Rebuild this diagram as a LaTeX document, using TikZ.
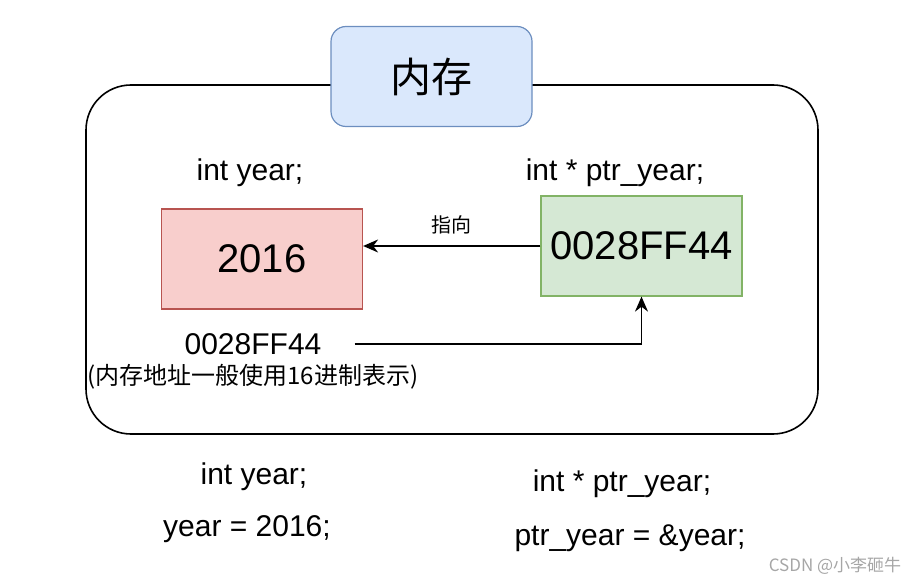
\documentclass[tikz,border=0pt]{standalone}
\usepackage{fontspec}
\setmainfont{Liberation Sans}
\newfontfamily\cjk{Noto Sans CJK SC}
\usetikzlibrary{arrows.meta}
\definecolor{memfill}{HTML}{DAE8FC}
\definecolor{memline}{HTML}{6C8EBF}
\definecolor{valfill}{HTML}{F8CECC}
\definecolor{valline}{HTML}{B85450}
\definecolor{ptrfill}{HTML}{D5E8D4}
\definecolor{ptrline}{HTML}{82B366}
\tikzset{basic/.style={draw,line width=1.2pt,minimum width=201pt,minimum height=100pt,inner sep=0pt}}
\tikzset{valbox/.style={basic,fill=valfill,draw=valline,font=\fontsize{40}{44}\selectfont}}
\tikzset{ptrbox/.style={basic,fill=ptrfill,draw=ptrline,font=\fontsize{40}{44}\selectfont}}
\tikzset{code/.style={inner sep=0pt,font=\fontsize{30}{34}\selectfont}}
\tikzset{link/.style={line width=1.6pt,-{Stealth[length=15pt,width=13pt]}}}
\begin{document}
\begin{tikzpicture}[x=1pt,y=-1pt]
    \useasboundingbox (0,0) rectangle (919,585);
    % Memory frame and its title
    \draw[line width=1.6pt,rounded corners=45pt] (86,85) rectangle (818,434);
    \node[basic,fill=memfill,draw=memline,rounded corners=15pt,
          font=\cjk\fontsize{41}{45}\selectfont] (mem) at (431.5,76.5) {内存};
    % The two cells
    \node[valbox] (year) at (262,259) {2016};
    \node[ptrbox] (ptr) at (641.5,246) {0028FF44};
    \node[code] (yearname) at (250,173) {int year;};
    \node[code] (ptrname) at (615,173) {int * ptr\_year;};
    % Pointer points to the value
    \draw[link] (ptr.west) -- node[above=8pt,font=\cjk\fontsize{20}{24}\selectfont] (points) {指向} (ptr.west -| year.east);
    % Address of year
    \node[code] (addr) at (253,344) {0028FF44};
    \node[inner sep=0pt,font=\cjk\fontsize{24}{28}\selectfont] (note) at (253,377) {(内存地址一般使用16进制表示)};
    \draw[link] ([xshift=33pt]addr.east) -| (ptr.south);
    % Code below the frame
    \node[code] (decl1) at (254,477) {int year;};
    \node[code] (stmt1) at (247,529) {year = 2016;};
    \node[code] (decl2) at (622,484) {int * ptr\_year;};
    \node[code] (stmt2) at (630,538) {ptr\_year = \&year;};
    % Watermark
    \node[text=gray!70,font=\cjk\fontsize{17}{20}\selectfont] (mark) at (835,566) {CSDN @小李砸牛};
\end{tikzpicture}
\end{document}
